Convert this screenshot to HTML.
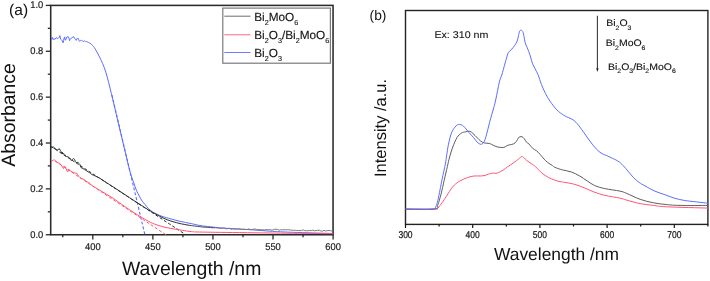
<!DOCTYPE html>
<html><head><meta charset="utf-8"><style>
html,body{margin:0;padding:0;background:#fff;}
body{width:710px;height:281px;overflow:hidden;}
svg{display:block;will-change:transform;}
text{font-family:"Liberation Sans",sans-serif;fill:#111;text-rendering:geometricPrecision;}
.tl{font-size:9.8px;fill:#1a1a1a;stroke:#1a1a1a;stroke-width:0.2px;}
.tr{font-size:9.9px;fill:#1a1a1a;stroke:#1a1a1a;stroke-width:0.25px;}
.pl{font-size:15.5px;}
.pl2{font-size:13.8px;}
.al{font-size:19.4px;}
.al2{font-size:17.4px;}
.al3{font-size:16.5px;}
.lg{font-size:11.8px;stroke:#111;stroke-width:0.12px;}
.sb{font-size:7.2px;}
.lg2{font-size:9.5px;stroke:#111;stroke-width:0.12px;}
.sb2{font-size:6.3px;}
.ex{font-size:9.8px;stroke:#111;stroke-width:0.08px;}
</style></head><body>
<svg width="710" height="281" viewBox="0 0 710 281">
<rect x="50.7" y="5.4" width="282.35" height="229.35" fill="none" stroke="#2a2a2a" stroke-width="1.55"/>
<line x1="45.8" y1="234.75" x2="50.7" y2="234.75" stroke="#2a2a2a" stroke-width="1.3"/>
<text transform="translate(43.2,237.67) scale(0.955,1)" class="tl" text-anchor="end">0.0</text>
<line x1="47.8" y1="211.81" x2="50.7" y2="211.81" stroke="#2a2a2a" stroke-width="1.3"/>
<line x1="45.8" y1="188.88" x2="50.7" y2="188.88" stroke="#2a2a2a" stroke-width="1.3"/>
<text transform="translate(43.2,191.8) scale(0.955,1)" class="tl" text-anchor="end">0.2</text>
<line x1="47.8" y1="165.94" x2="50.7" y2="165.94" stroke="#2a2a2a" stroke-width="1.3"/>
<line x1="45.8" y1="143.01" x2="50.7" y2="143.01" stroke="#2a2a2a" stroke-width="1.3"/>
<text transform="translate(43.2,145.93) scale(0.955,1)" class="tl" text-anchor="end">0.4</text>
<line x1="47.8" y1="120.08" x2="50.7" y2="120.08" stroke="#2a2a2a" stroke-width="1.3"/>
<line x1="45.8" y1="97.14" x2="50.7" y2="97.14" stroke="#2a2a2a" stroke-width="1.3"/>
<text transform="translate(43.2,100.06) scale(0.955,1)" class="tl" text-anchor="end">0.6</text>
<line x1="47.8" y1="74.21" x2="50.7" y2="74.21" stroke="#2a2a2a" stroke-width="1.3"/>
<line x1="45.8" y1="51.27" x2="50.7" y2="51.27" stroke="#2a2a2a" stroke-width="1.3"/>
<text transform="translate(43.2,54.19) scale(0.955,1)" class="tl" text-anchor="end">0.8</text>
<line x1="47.8" y1="28.34" x2="50.7" y2="28.34" stroke="#2a2a2a" stroke-width="1.3"/>
<line x1="45.8" y1="5.4" x2="50.7" y2="5.4" stroke="#2a2a2a" stroke-width="1.3"/>
<text transform="translate(43.2,8.32) scale(0.955,1)" class="tl" text-anchor="end">1.0</text>
<line x1="62.76" y1="234.75" x2="62.76" y2="237.2" stroke="#2a2a2a" stroke-width="1.3"/>
<line x1="92.8" y1="234.75" x2="92.8" y2="239.5" stroke="#2a2a2a" stroke-width="1.3"/>
<text transform="translate(92.8,250) scale(0.955,1)" class="tl" text-anchor="middle">400</text>
<line x1="122.84" y1="234.75" x2="122.84" y2="237.2" stroke="#2a2a2a" stroke-width="1.3"/>
<line x1="152.88" y1="234.75" x2="152.88" y2="239.5" stroke="#2a2a2a" stroke-width="1.3"/>
<text transform="translate(152.88,250) scale(0.955,1)" class="tl" text-anchor="middle">450</text>
<line x1="182.91" y1="234.75" x2="182.91" y2="237.2" stroke="#2a2a2a" stroke-width="1.3"/>
<line x1="212.95" y1="234.75" x2="212.95" y2="239.5" stroke="#2a2a2a" stroke-width="1.3"/>
<text transform="translate(212.95,250) scale(0.955,1)" class="tl" text-anchor="middle">500</text>
<line x1="242.99" y1="234.75" x2="242.99" y2="237.2" stroke="#2a2a2a" stroke-width="1.3"/>
<line x1="273.02" y1="234.75" x2="273.02" y2="239.5" stroke="#2a2a2a" stroke-width="1.3"/>
<text transform="translate(273.02,250) scale(0.955,1)" class="tl" text-anchor="middle">550</text>
<line x1="303.06" y1="234.75" x2="303.06" y2="237.2" stroke="#2a2a2a" stroke-width="1.3"/>
<line x1="333.1" y1="234.75" x2="333.1" y2="239.5" stroke="#2a2a2a" stroke-width="1.3"/>
<text transform="translate(333.1,250) scale(0.955,1)" class="tl" text-anchor="middle">600</text>
<text x="9.1" y="15.2" class="pl">(a)</text>
<text transform="translate(14.9,114.9) rotate(-90)" class="al" text-anchor="middle">Absorbance</text>
<text x="191.6" y="275.4" class="al" text-anchor="middle">Wavelength /nm</text>
<rect x="222.8" y="8.1" width="107.6" height="55.1" fill="#fff" stroke="#7a7a7a" stroke-width="1.2"/>
<line x1="224.3" y1="16.2" x2="250.5" y2="16.2" stroke="#5c5c62" stroke-width="0.9"/>
<line x1="224.3" y1="34.8" x2="250.5" y2="34.8" stroke="#ff5470" stroke-width="0.9"/>
<line x1="224.3" y1="52.5" x2="250.5" y2="52.5" stroke="#5b6cff" stroke-width="0.9"/>
<text x="254.2" y="20.7" class="lg"><tspan dy="0">Bi</tspan><tspan class="sb" dy="3.8">2</tspan><tspan dy="-3.8">MoO</tspan><tspan class="sb" dy="3.8">6</tspan></text>
<text x="254.2" y="39.2" class="lg"><tspan dy="0">Bi</tspan><tspan class="sb" dy="3.8">2</tspan><tspan dy="-3.8">O</tspan><tspan class="sb" dy="3.8">3</tspan><tspan dy="-3.8">/Bi</tspan><tspan class="sb" dy="3.8">2</tspan><tspan dy="-3.8">MoO</tspan><tspan class="sb" dy="3.8">6</tspan></text>
<text x="254.2" y="56.9" class="lg"><tspan dy="0">Bi</tspan><tspan class="sb" dy="3.8">2</tspan><tspan dy="-3.8">O</tspan><tspan class="sb" dy="3.8">3</tspan></text>
<path d="M51.2,38.4 L51.6,38 L51.9,39.6 L52.4,37.5 L53.2,39.1 L54,39.3 L55.1,39.1 L55.9,38 L56.7,37.5 L57.5,38.8 L58.3,38.3 L59.1,37.5 L59.9,35.6 L60.1,36.9 L60.7,39.3 L61.5,39.9 L62.3,40.7 L63.1,42.8 L63.6,40.7 L64.1,38 L64.7,36.9 L65.2,40.1 L65.8,39.9 L66.3,38 L67.1,36.9 L68.2,36.7 L69,38 L69.5,40.7 L70,39.3 L70.8,38.5 L71.9,38 L73,36.7 L73.8,36.9 L74.6,38.3 L75.4,39.3 L76.2,40.4 L77,38.8 L77.8,38 L78.6,39.3 L79.1,40.9 L79.6,41.2 L80.5,40.6 L81.5,40.3 L82.5,41 L83.5,41.4 L84.5,40.9 L85.5,41.5 L86.5,41.6" fill="none" stroke="#5b6cff" stroke-width="1"/>
<path d="M86.5,41.6 C86.83,41.73 87.75,42 88.5,42.4 C89.25,42.8 90.03,43.15 91,44 C91.97,44.85 93.05,45.67 94.3,47.5 C95.55,49.33 97.12,52.33 98.5,55 C99.88,57.67 101.38,60.67 102.6,63.5 C103.82,66.33 104.78,68.8 105.8,72 C106.82,75.2 107.78,79.13 108.7,82.7 C109.62,86.27 110.48,90.05 111.3,93.4 C112.12,96.75 112.65,98.78 113.6,102.8 C114.55,106.82 115.72,112.03 117,117.5 C118.28,122.97 119.87,129.57 121.3,135.6 C122.73,141.63 124.13,147.63 125.6,153.7 C127.07,159.77 128.75,167.17 130.1,172 C131.45,176.83 132.63,179.62 133.7,182.7 C134.77,185.78 135.55,188.25 136.5,190.5 C137.45,192.75 138.45,194.42 139.4,196.2 C140.35,197.98 141.25,199.82 142.2,201.2 C143.15,202.58 144.05,203.27 145.1,204.5 C146.15,205.73 147.43,207.5 148.5,208.6 C149.57,209.7 150.55,210.4 151.5,211.1 C152.45,211.8 152.55,211.97 154.2,212.8 C155.85,213.63 159.02,215.2 161.4,216.1 C163.78,217 165.4,217.33 168.5,218.2 C171.6,219.07 176.22,220.4 180,221.3 C183.78,222.2 187.45,222.83 191.2,223.6 C194.95,224.37 196.87,225.13 202.5,225.9 C208.13,226.67 217.48,227.6 225,228.2 C232.52,228.8 240.1,229 247.6,229.5 C255.1,230 262.48,230.73 270,231.2 C277.52,231.67 282.2,231.92 292.7,232.3 C303.2,232.68 326.28,233.3 333,233.5" fill="none" stroke="#5b6cff" stroke-width="1"/>
<line x1="111.9" y1="95" x2="144.9" y2="234.8" stroke="#5b6cff" stroke-width="1.1" stroke-dasharray="3,2"/>
<path d="M51.2,147.9 L52,147.5 L53.3,146.7 L54.1,147.5 L54.9,149.1 L55.7,148.7 L56.5,149.5 L57.8,150 L58.6,149.1 L59.4,148.7 L60.2,150.4 L61,151.2 L61.4,153.2 L62.3,152 L62.7,154 L63.9,153.6 L64.7,154.4 L65.5,156.1 L66.4,156.5 L67.6,156.5 L68.8,157.3 L69.6,158.1 L70.4,158.5 L71.3,160.6 L72.1,159.8 L72.9,158.9 L73.7,158.5 L74.5,159.4 L75.3,161.4 L76.2,162.6 L77,162.2 L78.2,162.6 L79,163.4 L79.8,164.3 L81,167.6 L82.7,168.5 L84.5,169.4 L87,171.1" fill="none" stroke="#2e2e2e" stroke-width="1"/>
<path d="M87,171.1 C87.43,171.38 88.75,172.22 89.6,172.8 C90.45,173.38 90.5,173.75 92.1,174.6 C93.7,175.45 96.82,176.57 99.2,177.9 C101.58,179.23 104.02,181.07 106.4,182.6 C108.78,184.13 110.42,185.1 113.5,187.1 C116.58,189.1 121.45,192.33 124.9,194.6 C128.35,196.87 130.27,198.15 134.2,200.7 C138.13,203.25 144.87,207.65 148.5,209.9 C152.13,212.15 153.42,212.78 156,214.2 C158.58,215.62 161.33,217.2 164,218.4 C166.67,219.6 169.07,220.48 172,221.4 C174.93,222.32 178.4,223.2 181.6,223.9 C184.8,224.6 189.6,225.32 191.2,225.6" fill="none" stroke="#2e2e2e" stroke-width="1"/>
<path d="M191.2,225.6 C191.47,225.63 192.27,225.73 192.8,225.8 C193.33,225.86 193.87,225.93 194.4,226 C194.93,226.06 195.47,226.13 196,226.19 C196.53,226.26 197.07,226.33 197.6,226.39 C198.13,226.46 198.67,226.53 199.2,226.59 C199.73,226.66 200.27,226.72 200.8,226.79 C201.33,226.86 201.87,226.93 202.4,226.99 C202.93,227.04 203.47,227.07 204,227.11 C204.53,227.15 205.07,227.18 205.6,227.22 C206.13,227.26 206.67,227.3 207.2,227.33 C207.73,227.37 208.27,227.41 208.8,227.45 C209.33,227.49 209.87,227.52 210.4,227.56 C210.93,227.6 211.47,227.64 212,227.68 C212.53,227.71 213.07,227.8 213.6,227.79 C214.13,227.78 214.93,227.67 215.2,227.64" fill="none" stroke="#444" stroke-width="1"/>
<path d="M215.2,227.64 L216.8,228.06 L218.4,228 L220,228.35 L221.6,228.48 L223.2,228.04 L224.8,228.1 L226.4,228.98 L228,228.45 L229.6,228.48 L231.2,229.29 L232.8,228.81 L234.4,229.23 L236,228.92 L237.6,229.13 L239.2,228.69 L240.8,229.22 L242.4,229.51 L244,229.21 L245.6,229.48 L247.2,229.46 L248.8,228.88 L250.4,229.6 L252,229.45 L253.6,229.18 L255.2,228.93 L256.8,229.79 L258.4,229.42 L260,229.68 L261.6,229.87 L263.2,229.72 L264.8,229.95 L266.4,229.45 L268,229.87 L269.6,229.54 L271.2,230.06 L272.8,230.03 L274.4,229.27 L276,229.34 L277.6,229.45 L279.2,230.23 L280.8,229.73 L282.4,229.95 L284,229.65 L285.6,229.88 L287.2,229.79 L288.8,229.78 L290.4,230.04 L292,230.07 L293.6,230.42 L295.2,230.24 L296.8,230.52 L298.4,230.48 L300,230.65 L301.6,230.37 L303.2,229.9 L304.8,230.63 L306.4,230.77 L308,230.75 L309.6,230.45 L311.2,230.63 L312.8,230.16 L314.4,230.82 L316,230.59 L317.6,230.34 L319.2,230.16 L320.8,230.98 L322.4,231.15 L324,230.29 L325.6,231.04 L327.2,230.68 L328.8,230.46 L330.4,230.64 L332,231.15 L333,230.9" fill="none" stroke="#777" stroke-width="1"/>
<line x1="51" y1="146.5" x2="186" y2="234.8" stroke="#2e2e2e" stroke-width="1" stroke-dasharray="3,2"/>
<path d="M51.2,160.6 L52,161 L53.3,160.2 L54.5,159.8 L55.3,160.6 L56.1,161.4 L57.4,162.6 L58.2,162.6 L59.7,163.4 L61,164.7 L61.8,166 L62.7,167.3 L63.5,168.5 L64.4,166.4 L65.3,166.8 L66.1,168.5 L67,171.1 L67.8,171.9 L68.7,169 L69.5,170.2 L70.8,171.1 L72.1,171.9 L73.4,172.4 L74.6,172.8 L75.9,173.2 L76.8,173.2 L77.6,174.5 L78.5,176.2 L79.8,177.5 L81,178.3 L82.7,178.8 L84,179.6 L85.3,180.5 L87,181.8 L88.7,182.6 L90,183.5" fill="none" stroke="#ff5470" stroke-width="1"/>
<path d="M90,183.5 C90.35,183.85 90.57,184.53 92.1,185.6 C93.63,186.67 96.82,188.47 99.2,189.9 C101.58,191.33 104.02,192.77 106.4,194.2 C108.78,195.63 111.02,196.85 113.5,198.5 C115.98,200.15 117.85,201.72 121.3,204.1 C124.75,206.48 129.67,209.93 134.2,212.8 C138.73,215.67 144.87,219.33 148.5,221.3 C152.13,223.27 153.42,223.65 156,224.6 C158.58,225.55 161.33,226.33 164,227 C166.67,227.67 169.07,228.07 172,228.6 C174.93,229.13 178.4,229.7 181.6,230.2 C184.8,230.7 187.72,231.28 191.2,231.6 C194.68,231.92 193.1,231.92 202.5,232.1 C211.9,232.28 225.85,232.43 247.6,232.7 C269.35,232.97 318.77,233.53 333,233.7" fill="none" stroke="#ff5470" stroke-width="1"/>
<line x1="55" y1="161" x2="166" y2="234.8" stroke="#ff5470" stroke-width="1" stroke-dasharray="3,2"/>
<rect x="405.5" y="10.5" width="302.4" height="213.9" fill="none" stroke="#222" stroke-width="1.4"/>
<line x1="405.5" y1="224.4" x2="405.5" y2="228" stroke="#141414" stroke-width="1.2"/>
<text transform="translate(405.5,237.6) scale(0.86,1)" class="tr" text-anchor="middle">300</text>
<line x1="439.1" y1="224.4" x2="439.1" y2="226.5" stroke="#141414" stroke-width="1.2"/>
<line x1="472.7" y1="224.4" x2="472.7" y2="228" stroke="#141414" stroke-width="1.2"/>
<text transform="translate(472.7,237.6) scale(0.86,1)" class="tr" text-anchor="middle">400</text>
<line x1="506.3" y1="224.4" x2="506.3" y2="226.5" stroke="#141414" stroke-width="1.2"/>
<line x1="539.9" y1="224.4" x2="539.9" y2="228" stroke="#141414" stroke-width="1.2"/>
<text transform="translate(539.9,237.6) scale(0.86,1)" class="tr" text-anchor="middle">500</text>
<line x1="573.5" y1="224.4" x2="573.5" y2="226.5" stroke="#141414" stroke-width="1.2"/>
<line x1="607.1" y1="224.4" x2="607.1" y2="228" stroke="#141414" stroke-width="1.2"/>
<text transform="translate(607.1,237.6) scale(0.86,1)" class="tr" text-anchor="middle">600</text>
<line x1="640.7" y1="224.4" x2="640.7" y2="226.5" stroke="#141414" stroke-width="1.2"/>
<line x1="674.3" y1="224.4" x2="674.3" y2="228" stroke="#141414" stroke-width="1.2"/>
<text transform="translate(674.3,237.6) scale(0.86,1)" class="tr" text-anchor="middle">700</text>
<line x1="707.9" y1="224.4" x2="707.9" y2="226.5" stroke="#141414" stroke-width="1.2"/>
<text x="369.6" y="20.3" class="pl2">(b)</text>
<text transform="translate(386.3,128) rotate(-90)" class="al3" text-anchor="middle">Intensity /a.u.</text>
<text x="556.5" y="259.6" class="al2" text-anchor="middle">Wavelength /nm</text>
<text transform="translate(434.4,37.9) scale(1.09,1)" class="ex">Ex: 310 nm</text>
<line x1="597.4" y1="15.7" x2="597.4" y2="69" stroke="#333" stroke-width="1.05"/>
<path d="M596.2,68.2 L598.6,68.2 L597.4,72 Z" fill="#222"/>
<text transform="translate(606.3,25.9) scale(1.1,1)" class="lg2"><tspan dy="0">Bi</tspan><tspan class="sb2" dy="3.8">2</tspan><tspan dy="-3.8">O</tspan><tspan class="sb2" dy="3.8">3</tspan></text>
<text transform="translate(605.8,45.8) scale(1.1,1)" class="lg2"><tspan dy="0">Bi</tspan><tspan class="sb2" dy="3.8">2</tspan><tspan dy="-3.8">MoO</tspan><tspan class="sb2" dy="3.8">6</tspan></text>
<text transform="translate(608.0,69.5) scale(1.1,1)" class="lg2"><tspan dy="0">Bi</tspan><tspan class="sb2" dy="3.8">2</tspan><tspan dy="-3.8">O</tspan><tspan class="sb2" dy="3.8">3</tspan><tspan dy="-3.8">/Bi</tspan><tspan class="sb2" dy="3.8">2</tspan><tspan dy="-3.8">MoO</tspan><tspan class="sb2" dy="3.8">6</tspan></text>
<path d="M405.6,209.1 C410.43,209.1 429.23,209.28 434.6,209.1 C439.97,208.92 436.55,209.07 437.8,208 C439.05,206.93 440.67,204.65 442.1,202.7 C443.53,200.75 444.62,198.97 446.4,196.3 C448.18,193.63 450.67,189.18 452.8,186.7 C454.93,184.22 456.72,182.93 459.2,181.4 C461.68,179.87 465.22,178.4 467.7,177.5 C470.18,176.6 471.97,176.25 474.1,176 C476.23,175.75 478.68,176.1 480.5,176 C482.32,175.9 483.67,175.72 485,175.4 C486.33,175.08 487.2,174.48 488.5,174.1 C489.8,173.72 491.37,173.27 492.8,173.1 C494.23,172.93 495.32,173.63 497.1,173.1 C498.88,172.57 501.73,170.97 503.5,169.9 C505.27,168.83 505.93,167.95 507.7,166.7 C509.47,165.45 512.32,163.65 514.1,162.4 C515.88,161.15 517.13,160.18 518.4,159.2 C519.67,158.22 520.82,156.78 521.7,156.5 C522.58,156.22 522.83,156.8 523.7,157.5 C524.57,158.2 525.65,159.7 526.9,160.7 C528.15,161.7 529.77,162.5 531.2,163.5 C532.63,164.5 533.72,165.1 535.5,166.7 C537.28,168.3 539.77,171.33 541.9,173.1 C544.03,174.87 546.17,176.13 548.3,177.3 C550.43,178.47 552.75,179.38 554.7,180.1 C556.65,180.82 558.3,181.22 560,181.6 C561.7,181.98 562.42,181.93 564.9,182.4 C567.38,182.87 571.57,183.45 574.9,184.4 C578.23,185.35 581.58,186.78 584.9,188.1 C588.22,189.42 591.48,191.1 594.8,192.3 C598.12,193.5 600.63,194.33 604.8,195.3 C608.97,196.27 616.15,197.3 619.8,198.1 C623.45,198.9 623.32,199.18 626.7,200.1 C630.08,201.02 635.65,202.72 640.1,203.6 C644.55,204.48 648.95,204.87 653.4,205.4 C657.85,205.93 657.7,206.35 666.8,206.8 C675.9,207.25 701.13,207.88 708,208.1" fill="none" stroke="#ff5470" stroke-width="1"/>
<path d="M405.6,209.1 C410.43,209.08 429.23,209.72 434.6,209 C439.97,208.28 436.73,207.27 437.8,204.8 C438.87,202.33 439.93,198.28 441,194.2 C442.07,190.12 443.13,184.93 444.2,180.3 C445.27,175.67 446.5,170.28 447.4,166.4 C448.3,162.52 448.7,160.23 449.6,157 C450.5,153.77 451.57,150.23 452.8,147 C454.03,143.77 455.58,139.92 457,137.6 C458.42,135.28 459.87,134.07 461.3,133.1 C462.73,132.13 464.18,132.1 465.6,131.8 C467.02,131.5 468.57,131.02 469.8,131.3 C471.03,131.58 471.75,132.42 473,133.5 C474.25,134.58 476.02,136.53 477.3,137.8 C478.58,139.07 479.55,140.25 480.7,141.1 C481.85,141.95 482.72,142.5 484.2,142.9 C485.68,143.3 488.12,143.12 489.6,143.5 C491.08,143.88 491.77,144.62 493.1,145.2 C494.43,145.78 495.82,146.63 497.6,147 C499.38,147.37 502.22,147.63 503.8,147.4 C505.38,147.17 506.18,146.02 507.1,145.6 C508.02,145.18 508.23,145.18 509.3,144.9 C510.37,144.62 512.32,144.48 513.5,143.9 C514.68,143.32 515.57,142.42 516.4,141.4 C517.23,140.38 517.92,138.57 518.5,137.8 C519.08,137.03 519.3,136.97 519.9,136.8 C520.5,136.63 521.38,136.52 522.1,136.8 C522.82,137.08 523.48,137.62 524.2,138.5 C524.92,139.38 525.57,141.15 526.4,142.1 C527.23,143.05 528.13,143.13 529.2,144.2 C530.27,145.27 531.62,147.43 532.8,148.5 C533.98,149.57 535.12,149.65 536.3,150.6 C537.48,151.55 538.6,152.78 539.9,154.2 C541.2,155.62 542.83,157.73 544.1,159.1 C545.37,160.47 546.1,161.32 547.5,162.4 C548.9,163.48 551.25,164.77 552.5,165.6 C553.75,166.43 553.35,166.68 555,167.4 C556.65,168.12 559.7,169.15 562.4,169.9 C565.1,170.65 568.28,170.87 571.2,171.9 C574.12,172.93 577.2,174.57 579.9,176.1 C582.6,177.63 584.92,179.52 587.4,181.1 C589.88,182.68 591.9,184.35 594.8,185.6 C597.7,186.85 600.63,187.68 604.8,188.6 C608.97,189.52 616.15,190.3 619.8,191.1 C623.45,191.9 623.32,192.03 626.7,193.4 C630.08,194.77 635.65,197.73 640.1,199.3 C644.55,200.87 648.95,201.92 653.4,202.8 C657.85,203.68 662.35,204.17 666.8,204.6 C671.25,205.03 673.23,205.27 680.1,205.4 C686.97,205.53 703.35,205.4 708,205.4" fill="none" stroke="#5c5c62" stroke-width="1"/>
<path d="M405.6,209.1 C410.08,209.1 427.48,209.45 432.5,209.1 C437.52,208.75 434.82,208.42 435.7,207 C436.58,205.58 437.08,203.45 437.8,200.6 C438.52,197.75 439.28,193.47 440,189.9 C440.72,186.33 441.22,183.47 442.1,179.2 C442.98,174.93 444.55,168.18 445.3,164.3 C446.05,160.42 446.07,159.25 446.6,155.9 C447.13,152.55 447.65,148.12 448.5,144.2 C449.35,140.28 450.45,135.43 451.7,132.4 C452.95,129.37 454.75,127.32 456,126 C457.25,124.68 457.97,124.5 459.2,124.5 C460.43,124.5 461.8,124.68 463.4,126 C465,127.32 467.1,130.47 468.8,132.4 C470.5,134.33 472.22,136 473.6,137.6 C474.98,139.2 475.92,140.88 477.1,142 C478.28,143.12 479.67,144.15 480.7,144.3 C481.73,144.45 482.57,143.72 483.3,142.9 C484.03,142.08 484.5,141.03 485.1,139.4 C485.7,137.77 486.3,135.33 486.9,133.1 C487.5,130.87 488.1,128.37 488.7,126 C489.3,123.63 489.77,121.57 490.5,118.9 C491.23,116.23 492.23,113.15 493.1,110 C493.97,106.85 494.65,104.7 495.7,100 C496.75,95.3 498.38,85.97 499.4,81.8 C500.42,77.63 500.9,77.95 501.8,75 C502.7,72.05 504,66.95 504.8,64.1 C505.6,61.25 506.02,59.82 506.6,57.9 C507.18,55.98 507.42,54.08 508.3,52.6 C509.18,51.12 510.85,50.18 511.9,49 C512.95,47.82 513.72,46.83 514.6,45.5 C515.48,44.17 516.55,42.63 517.2,41 C517.85,39.37 518.1,37.33 518.5,35.7 C518.9,34.07 519.15,32.1 519.6,31.2 C520.05,30.3 520.65,30.2 521.2,30.3 C521.75,30.4 522.43,30.75 522.9,31.8 C523.37,32.85 523.62,34.77 524,36.6 C524.38,38.43 524.7,41.03 525.2,42.8 C525.7,44.57 526.4,45.72 527,47.2 C527.6,48.68 528.2,50.07 528.8,51.7 C529.4,53.33 530,55.07 530.6,57 C531.2,58.93 531.67,61.37 532.4,63.3 C533.13,65.23 534.05,66.68 535,68.6 C535.95,70.52 537.03,72.17 538.1,74.8 C539.17,77.43 540.17,81.28 541.4,84.4 C542.63,87.52 544.07,90.7 545.5,93.5 C546.93,96.3 548.07,98.43 550,101.2 C551.93,103.97 554.73,107.72 557.1,110.1 C559.47,112.48 561.53,113.87 564.2,115.5 C566.87,117.13 570.72,118.28 573.1,119.9 C575.48,121.52 576.42,122.68 578.5,125.2 C580.58,127.72 583.23,131.73 585.6,135 C587.97,138.27 590.3,141.92 592.7,144.8 C595.1,147.68 597.3,150.33 600,152.3 C602.7,154.27 605.93,155.15 608.9,156.6 C611.87,158.05 615.43,159.52 617.8,161 C620.17,162.48 621.32,163.72 623.1,165.5 C624.88,167.28 626.72,169.63 628.5,171.7 C630.28,173.77 632.03,176.12 633.8,177.9 C635.57,179.68 637.23,181.07 639.1,182.4 C640.97,183.73 642.35,184.43 645,185.9 C647.65,187.37 651.68,189.73 655,191.2 C658.32,192.67 661.58,193.52 664.9,194.7 C668.22,195.88 671.58,197.33 674.9,198.3 C678.22,199.27 681.48,199.93 684.8,200.5 C688.12,201.07 690.93,201.25 694.8,201.7 C698.67,202.15 705.8,202.95 708,203.2" fill="none" stroke="#5b6cff" stroke-width="1"/>
</svg>
</body></html>
